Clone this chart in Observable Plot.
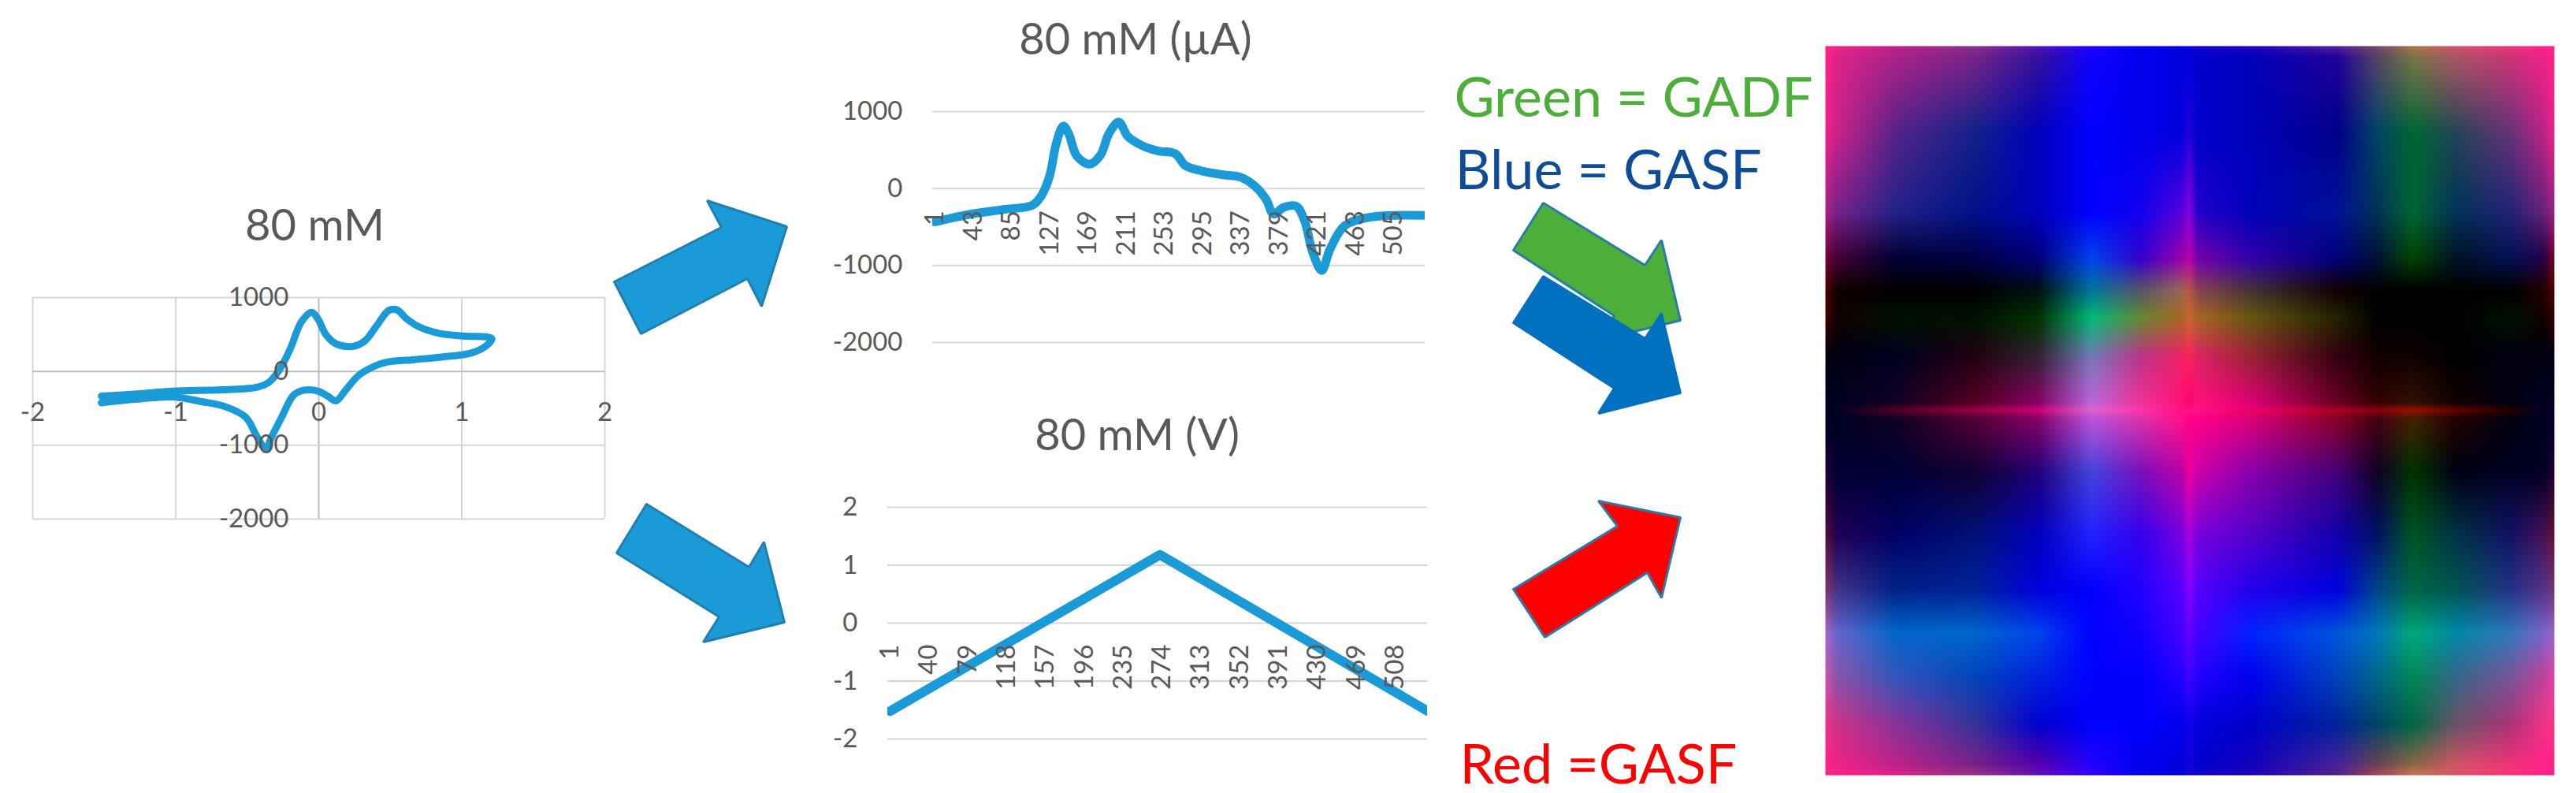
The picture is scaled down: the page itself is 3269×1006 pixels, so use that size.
<!DOCTYPE html>
<html>
<head>
<meta charset="utf-8">
<script src="https://cdn.jsdelivr.net/npm/d3@7"></script>
<script src="https://cdn.jsdelivr.net/npm/@observablehq/plot@0.6"></script>
<style>
html,body{margin:0;padding:0;background:#fff;width:3269px;height:1006px;overflow:hidden}
#page{position:relative;width:3269px;height:1006px}
</style>
</head>
<body>
<div id="page"></div>
<script>
// ---------- chart titles and tick labels ----------
const titleLoop = "80 mM", titleCurrent = "80 mM (µA)", titleVoltage = "80 mM (V)";
const loopXTicks = [-2, -1, 0, 1, 2];
const loopYTicks = [1000, 0, -1000, -2000];
const currentXTicks = [1, 43, 85, 127, 169, 211, 253, 295, 337, 379, 421, 463, 505];
const currentYTicks = [1000, 0, -1000, -2000];
const voltageXTicks = [1, 40, 79, 118, 157, 196, 235, 274, 313, 352, 391, 430, 469, 508];
const voltageYTicks = [2, 1, 0, -1, -2];

// ---------- cyclic voltammogram, voltage / current ----------
const loopVolts = [-1.52,-1.27,-1.02,-0.68,-0.43,-0.345,-0.27,-0.2,-0.12,-0.05,-0.006,0.05,0.12,0.235,0.32,0.40,0.49,0.545,0.615,0.70,0.84,1.01,1.21,1.165,1.065,0.87,0.67,0.475,0.39,0.28,0.19,0.12,0.065,-0.006,-0.105,-0.175,-0.26,-0.33,-0.37,-0.43,-0.51,-0.65,-0.82,-1.02,-1.27,-1.52];
const loopAmps = [-335,-305,-267,-249,-214,-142,36,302,676,800,712,498,374,338,409,605,826,836,712,605,516,480,445,338,249,196,160,125,71,-53,-249,-399,-338,-267,-256,-320,-623,-890,-1050,-890,-623,-480,-409,-345,-375,-425];

// ---------- current against sample number ----------
const currentIndex = [1,41,78,108,118,127,134,142,148,157,171,183,192,203,213,229,246,265,276,293,316,337,353,365,373,384,398,407,416,426,435,451,475,507,540];
const currentAmps = [-433,-331,-270,-218,-92,164,573,812,710,420,317,437,710,863,676,556,488,454,300,232,181,147,27,-143,-331,-246,-229,-416,-826,-1065,-792,-485,-382,-348,-349];

// ---------- voltage against sample number ----------
const voltageIndex = [1, 272, 541];
const voltageVolts = [-1.52, 1.18, -1.52];

// ---------- legend ----------
const legendGreen = "Green = GADF", legendBlue = "Blue = GASF", legendRed = "Red =GASF";

// ---------- block arrows on the page ----------
const arrowUpper = [[779,357],[813,423],[948,353],[966,388],[998,287],[897,254],[915,288]];
const arrowLower = [[820,639],[782,701],[912,782],[892,814],[995,789],[969,687],[950,719]];
const arrowGreen = [[1920,317],[1958,257],[2087,336],[2108,304],[2132,406],[2028,431],[2048,400]];
const arrowBlue  = [[1920,409],[1958,350],[2087,429],[2108,397],[2132,498],[2028,524],[2048,492]];
const arrowRed   = [[1920,747],[1960,808],[2090,726],[2108,758],[2132,656],[2028,635],[2052,667]];

// ---------- composite GAF image, colours ----------
const heatColumns = [0,14,90,190,270,338,400,452,462,472,540,650,700,746,800,870,911,925];
const heatLines = [0,14,110,210,270,310,345,395,452,462,472,540,620,690,745,800,860,911,925];
const heatRows = [
"f28 e28 b28 838 51b 20f 00e 00d 10d 10c 20b 529 746 a74 c56 e37 f28 f28",
"f28 d28 a28 728 319 10f 00e 00d 00d 00c 00b 209 546 774 a56 c37 e28 f28",
"e28 c28 528 128 00b 00f 00e 00d 20d 00c 00b 008 046 063 245 637 b28 e28",
"a28 728 228 018 00b 00f 10e 50d 80d 20c 00b 019 035 063 035 227 627 928",
"703 403 003 004 007 04e 30c 90a b0a 70a 30a 007 013 040 012 015 204 702",
"500 100 000 000 011 079 556 965 b54 845 433 100 000 000 000 000 200 500",
"400 100 010 010 030 0b7 683 a62 c63 a62 651 220 000 000 000 010 100 300",
"001 001 002 201 323 77b b38 e26 f25 d26 923 301 100 100 000 001 001 001",
"002 002 102 502 806 b6d e39 f17 f07 f17 d07 602 300 310 100 001 002 002",
"002 002 502 904 c07 d6c f3a f18 f17 f18 e06 a02 801 910 600 200 002 002",
"002 002 102 503 806 b5d d3a f18 f08 f08 d07 802 401 420 200 001 002 002",
"203 003 003 103 207 44d 71b b0a e09 c0a 80a 407 102 030 001 002 002 203",
"513 205 006 017 00b 22f 30e 70d a0d 70d 50c 10a 016 052 034 116 415 613",
"836 438 028 029 00d 00f 20f 50f 80f 50f 20e 00d 048 064 055 238 538 737",
"a6c 66c 06c 06c 04e 00f 10f 40f 60f 40f 02f 05d 07b 0a7 08a 37b 76c 96c",
"c5a 85a 35b 04b 02d 00f 00f 20f 40f 20f 00e 04b 068 085 368 759 b49 d4a",
"e38 c38 839 339 00c 00f 00f 00e 10e 00d 00c 029 046 064 656 a37 e38 f38",
"f28 e28 b28 728 50a 20f 00e 00d 10d 00c 10b 429 645 864 c56 e37 f28 f28",
"f28 f28 d28 938 61b 30f 00e 00d 20d 10c 20b 528 a45 c75 d56 f37 f28 f28"
];

// ---------- drawing ----------
const page = document.getElementById("page");
const ink = "#595959", lineBlue = "#1b9ad8", gridGrey = "#d6d6d6", axisGrey = "#bdbdbd";
const tickFont = "Lato", tickSize = 33;

function place(svg, left, top) {
  svg.style.position = "absolute";
  svg.style.left = left + "px";
  svg.style.top = top + "px";
  svg.style.maxWidth = "none";
  svg.style.height = "auto";
  svg.style.overflow = "visible";
  svg.style.background = "transparent";
  page.appendChild(svg);
}

function titleMark(text, dx, dy) {
  return Plot.text([text], {
    frameAnchor: "top", dx, dy, text: d => d, fontFamily: tickFont, fontSize: 56,
    fill: ink, lineAnchor: "middle", textAnchor: "middle"
  });
}

// Left chart: loop
place(Plot.plot({
  width: 800, height: 460,
  marginLeft: 41, marginRight: 33, marginTop: 137, marginBottom: 42,
  x: {domain: [-2, 2], axis: null},
  y: {domain: [-2000, 1000], axis: null},
  marks: [
    Plot.ruleX(loopXTicks, {stroke: d => d === 0 ? axisGrey : gridGrey, strokeWidth: 2}),
    Plot.ruleY(loopYTicks, {stroke: d => d === 0 ? axisGrey : gridGrey, strokeWidth: 2}),
    Plot.line(loopVolts.map((v, i) => ({v, a: loopAmps[i]})), {
      x: "v", y: "a", stroke: lineBlue, strokeWidth: 9, curve: "catmull-rom"
    }),
    Plot.text(loopYTicks, {x: () => 0, y: d => d, text: d => String(d), dx: -38, textAnchor: "end",
      fontFamily: tickFont, fontSize: tickSize, fill: ink}),
    Plot.text(loopXTicks, {x: d => d, y: () => 0, text: d => String(d), dy: 52,
      fontFamily: tickFont, fontSize: tickSize, fill: ink}),
    titleMark(titleLoop, -5, -90)
  ]
}), 0, 240);

// Top chart: current
place(Plot.plot({
  width: 780, height: 500,
  marginLeft: 133, marginRight: 22, marginTop: 141, marginBottom: 66,
  x: {domain: [-1.6, 539.6], axis: null},
  y: {domain: [-2000, 1000], axis: null},
  marks: [
    Plot.ruleY(currentYTicks, {stroke: gridGrey, strokeWidth: 2}),
    Plot.line(currentIndex.map((i, k) => ({i, a: currentAmps[k]})), {
      x: "i", y: "a", stroke: lineBlue, strokeWidth: 11, curve: "catmull-rom", clip: true
    }),
    Plot.axisY(currentYTicks, {anchor: "left", tickSize: 0, tickPadding: 38, label: null,
      fontFamily: tickFont, fontSize: tickSize, fill: ink, tickFormat: d => String(d)}),
    Plot.text(currentXTicks, {x: d => d, y: () => 0, text: d => String(d), rotate: -90, textAnchor: "end", dy: 28,
      fontFamily: tickFont, fontSize: tickSize, fill: ink}),
    titleMark(titleCurrent, -55, -90)
  ]
}), 1050, 0);

// Bottom chart: voltage
place(Plot.plot({
  width: 780, height: 480,
  marginLeft: 76, marginRight: 19, marginTop: 143, marginBottom: 43,
  x: {domain: [-1.4, 540.6], axis: null},
  y: {domain: [-2, 2], axis: null},
  marks: [
    Plot.ruleY(voltageYTicks, {stroke: gridGrey, strokeWidth: 2}),
    Plot.line(voltageIndex.map((i, k) => ({i, v: voltageVolts[k]})), {
      x: "i", y: "v", stroke: lineBlue, strokeWidth: 12, clip: true
    }),
    Plot.axisY(voltageYTicks, {anchor: "left", tickSize: 0, tickPadding: 38, label: null,
      fontFamily: tickFont, fontSize: tickSize, fill: ink, tickFormat: d => String(d)}),
    Plot.text(voltageXTicks, {x: d => d, y: () => 0, text: d => String(d), rotate: -90, textAnchor: "end", dy: 27,
      fontFamily: tickFont, fontSize: tickSize, fill: ink}),
    titleMark(titleVoltage, -26, -90)
  ]
}), 1050, 500);

// Arrows and legend text, in page coordinates
const arrowTable = [
  {name: "upper", pts: arrowUpper, fill: lineBlue, edge: "#1f7fb0"},
  {name: "lower", pts: arrowLower, fill: lineBlue, edge: "#1f7fb0"},
  {name: "green", pts: arrowGreen, fill: "#4caf3a", edge: "#2a7ba8"},
  {name: "blue",  pts: arrowBlue,  fill: "#0070c0", edge: "#0070c0"},
  {name: "red",   pts: arrowRed,   fill: "#ff0000", edge: "#2a7ba8"}
];
const pageMarks = arrowTable.map(a => Plot.line([...a.pts, a.pts[0]], {
  x: d => d[0], y: d => d[1], fill: a.fill, stroke: a.edge, strokeWidth: 3, strokeLinejoin: "miter"
}));
const legendMark = (text, colour, px, py) => Plot.text([text], {
  x: () => px, y: () => py, text: d => d, fill: colour, textAnchor: "start", lineAnchor: "middle",
  fontFamily: tickFont, fontSize: 70
});
place(Plot.plot({
  width: 3269, height: 1006, margin: 0,
  x: {domain: [0, 3269], axis: null},
  y: {domain: [1006, 0], axis: null},
  marks: [
    ...pageMarks,
    legendMark(legendGreen, "#4caf3a", 1845, 125),
    legendMark(legendBlue, "#0f4c97", 1846, 217),
    legendMark(legendRed, "#ff0000", 1852, 971)
  ]
}), 0, 0);

// Composite image
const heatGrid = heatRows.map(r => r.split(" ").map(h => d3.rgb("#" + h)));
function heatAt(u, v) {
  const i = Math.min(heatColumns.length - 2, Math.max(0, d3.bisectRight(heatColumns, u) - 1));
  const j = Math.min(heatLines.length - 2, Math.max(0, d3.bisectRight(heatLines, v) - 1));
  const s = (u - heatColumns[i]) / (heatColumns[i + 1] - heatColumns[i]);
  const t = (v - heatLines[j]) / (heatLines[j + 1] - heatLines[j]);
  const a = heatGrid[j][i], b = heatGrid[j][i + 1], c = heatGrid[j + 1][i], d = heatGrid[j + 1][i + 1];
  const mix = k => Math.round((a[k] * (1 - s) + b[k] * s) * (1 - t) + (c[k] * (1 - s) + d[k] * s) * t);
  return `rgb(${mix("r")},${mix("g")},${mix("b")})`;
}
place(Plot.plot({
  width: 925, height: 925, margin: 0,
  x: {domain: [0, 925], axis: null},
  y: {domain: [925, 0], axis: null},
  color: {type: "identity"},
  marks: [
    Plot.raster({x1: 0, x2: 925, y1: 0, y2: 925, pixelSize: 1, fill: (u, v) => heatAt(u, v)})
  ]
}), 2316, 58);
</script>
</body>
</html>
